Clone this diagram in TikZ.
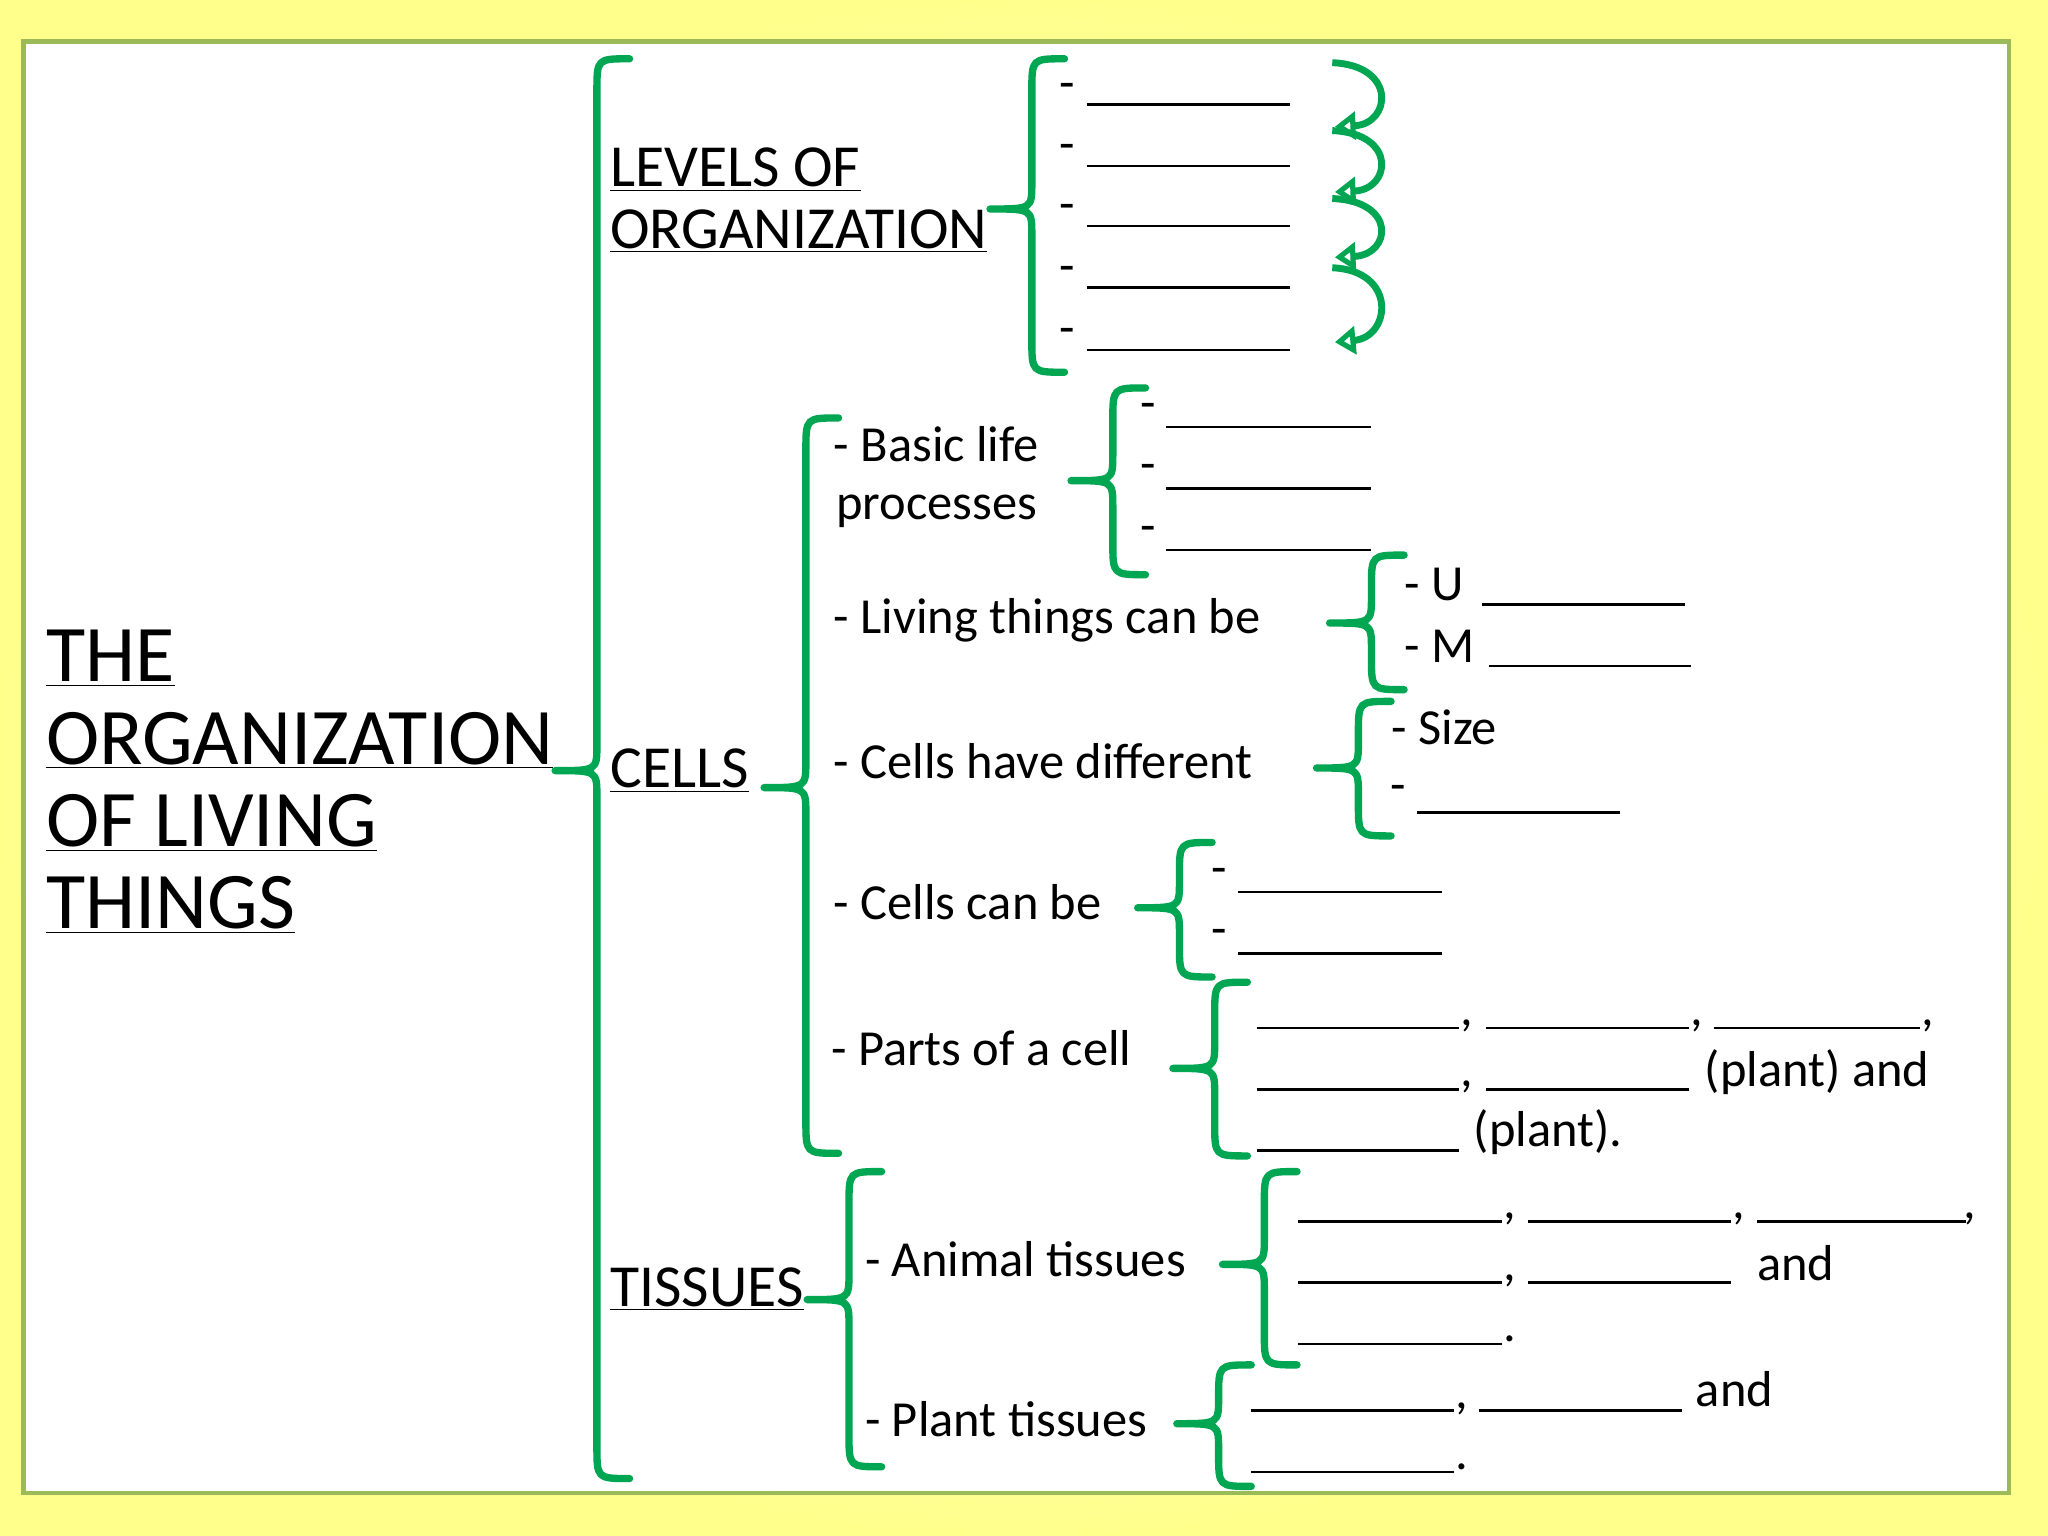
\documentclass[tikz,border=0pt]{standalone}
\usepackage{fontspec}
\setmainfont{Carlito}
\usetikzlibrary{arrows.meta}
\definecolor{gr}{HTML}{00A651}
\definecolor{fr}{HTML}{9BBB59}
\tikzset{
 br/.style={draw=gr,line width=3.2pt,line cap=round,line join=round},
 ln/.style={draw=black,line width=1.1pt},
 tt/.style={anchor=base west,inner sep=0pt,font=\fontsize{35}{35}\selectfont},
 sec/.style={anchor=base west,inner sep=0pt,font=\fontsize{26}{26}\selectfont},
 tx/.style={anchor=base west,inner sep=0pt,font=\fontsize{22}{22}\selectfont},
 ua/.style={draw=gr,line width=3pt,-{Triangle[open,length=9pt,width=12pt]}}
}
\newcommand\gbrace[4]{\draw[br] (#1+25,#2) .. controls (#1,#2) .. (#1,#2+25) -- (#1,#4-20) .. controls (#1,#4) .. (#1-32,#4) .. controls (#1,#4) .. (#1,#4+20) -- (#1,#3-25) .. controls (#1,#3) .. (#1+25,#3);}
\newcommand\bl[3]{\draw[ln] (#1,#3) -- (#2,#3);}
\begin{document}
\begin{tikzpicture}[x=0.02cm,y=-0.02cm]
\useasboundingbox (0,0) rectangle (1568,1176);
\shade[inner color=yellow!8,outer color=yellow!45] (0,0) rectangle (1568,1176);
\draw[draw=fr,fill=white,line width=2pt] (18,32) rectangle (1538,1143);
% title
\node[tt] (t1) at (35,522) {\underline{THE}};
\node[tt] (t2) at (35,585) {\underline{ORGANIZATION}};
\node[tt] (t3) at (35,648) {\underline{OF LIVING}};
\node[tt] (t4) at (35,711) {\underline{THINGS}};
% sections
\node[sec] (s1) at (467,143) {\underline{LEVELS OF}};
\node[sec] (s2) at (467,190) {\underline{ORGANIZATION}};
\node[sec] (s3) at (467,603) {\underline{CELLS}};
\node[sec] (s4) at (467,1000) {\underline{TISSUES}};
% braces
\gbrace{457}{45}{1132}{590}
\gbrace{790}{45}{285}{160}
\gbrace{617}{320}{883}{603}
\gbrace{852}{297}{440}{368}
\gbrace{1050}{425}{528}{477}
\gbrace{1040}{537}{640}{588}
\gbrace{903}{645}{748}{695}
\gbrace{930}{752}{885}{818}
\gbrace{650}{897}{1123}{995}
\gbrace{968}{897}{1045}{968}
\gbrace{933}{1045}{1138}{1090}
% levels
\foreach \y in {80,127,173,220,268}{\node[tx] at (811,\y-4) {-}; \bl{832}{988}{\y}}
\draw[ua] (1020,48) .. controls (1070,50) and (1065,95) .. (1022,97);
\draw[ua] (1020,100) .. controls (1070,102) and (1065,145) .. (1022,147);
\draw[ua] (1020,152) .. controls (1070,154) and (1065,195) .. (1022,197);
\draw[ua] (1020,205) .. controls (1070,207) and (1065,258) .. (1022,262);
% cells
\node[tx] (b1) at (638,353) {- Basic life};
\node[tx] (b2) at (640,398) {processes};
\foreach \y in {327,374,421}{\node[tx] at (873,\y-6) {-}; \bl{893}{1050}{\y}}
\node[tx] (lv) at (638,485) {- Living things can be};
\node[tx] at (1075,460) {- U}; \bl{1135}{1290}{463}
\node[tx] at (1075,507) {- M}; \bl{1140}{1295}{510}
\node[tx] (cd) at (638,596) {- Cells have different};
\node[tx] at (1065,570) {- Size};
\node[tx] at (1064,614) {-}; \bl{1085}{1240}{622}
\node[tx] (cb) at (638,704) {- Cells can be};
\foreach \y in {683,730}{\node[tx] at (927,\y-6) {-}; \bl{948}{1104}{\y}}
\node[tx] (pc) at (636,816) {- Parts of a cell};
\bl{962}{1117}{787}\node[tx] at (1118,785) {,};
\bl{1138}{1293}{787}\node[tx] at (1294,785) {,};
\bl{1312}{1470}{787}\node[tx] at (1471,785) {,};
\bl{962}{1117}{834}\node[tx] at (1118,832) {,};
\bl{1138}{1293}{834}\node[tx] at (1305,832) {(plant) and};
\bl{962}{1117}{881}\node[tx] at (1128,878) {(plant).};
% tissues
\node[tx] (an) at (662,977) {- Animal tissues};
\bl{994}{1150}{935}\node[tx] at (1151,933) {,};
\bl{1170}{1325}{935}\node[tx] at (1326,933) {,};
\bl{1345}{1505}{935}\node[tx] at (1503,933) {,};
\bl{994}{1150}{982}\node[tx] at (1151,980) {,};
\bl{1170}{1325}{982}\node[tx] at (1345,980) {and};
\bl{994}{1150}{1029}\node[tx] at (1151,1027) {.};
\node[tx] (pl) at (662,1100) {- Plant tissues};
\bl{958}{1113}{1080}\node[tx] at (1114,1078) {,};
\bl{1132}{1288}{1080}\node[tx] at (1298,1077) {and};
\bl{958}{1113}{1127}\node[tx] at (1114,1125) {.};
\end{tikzpicture}
\end{document}
